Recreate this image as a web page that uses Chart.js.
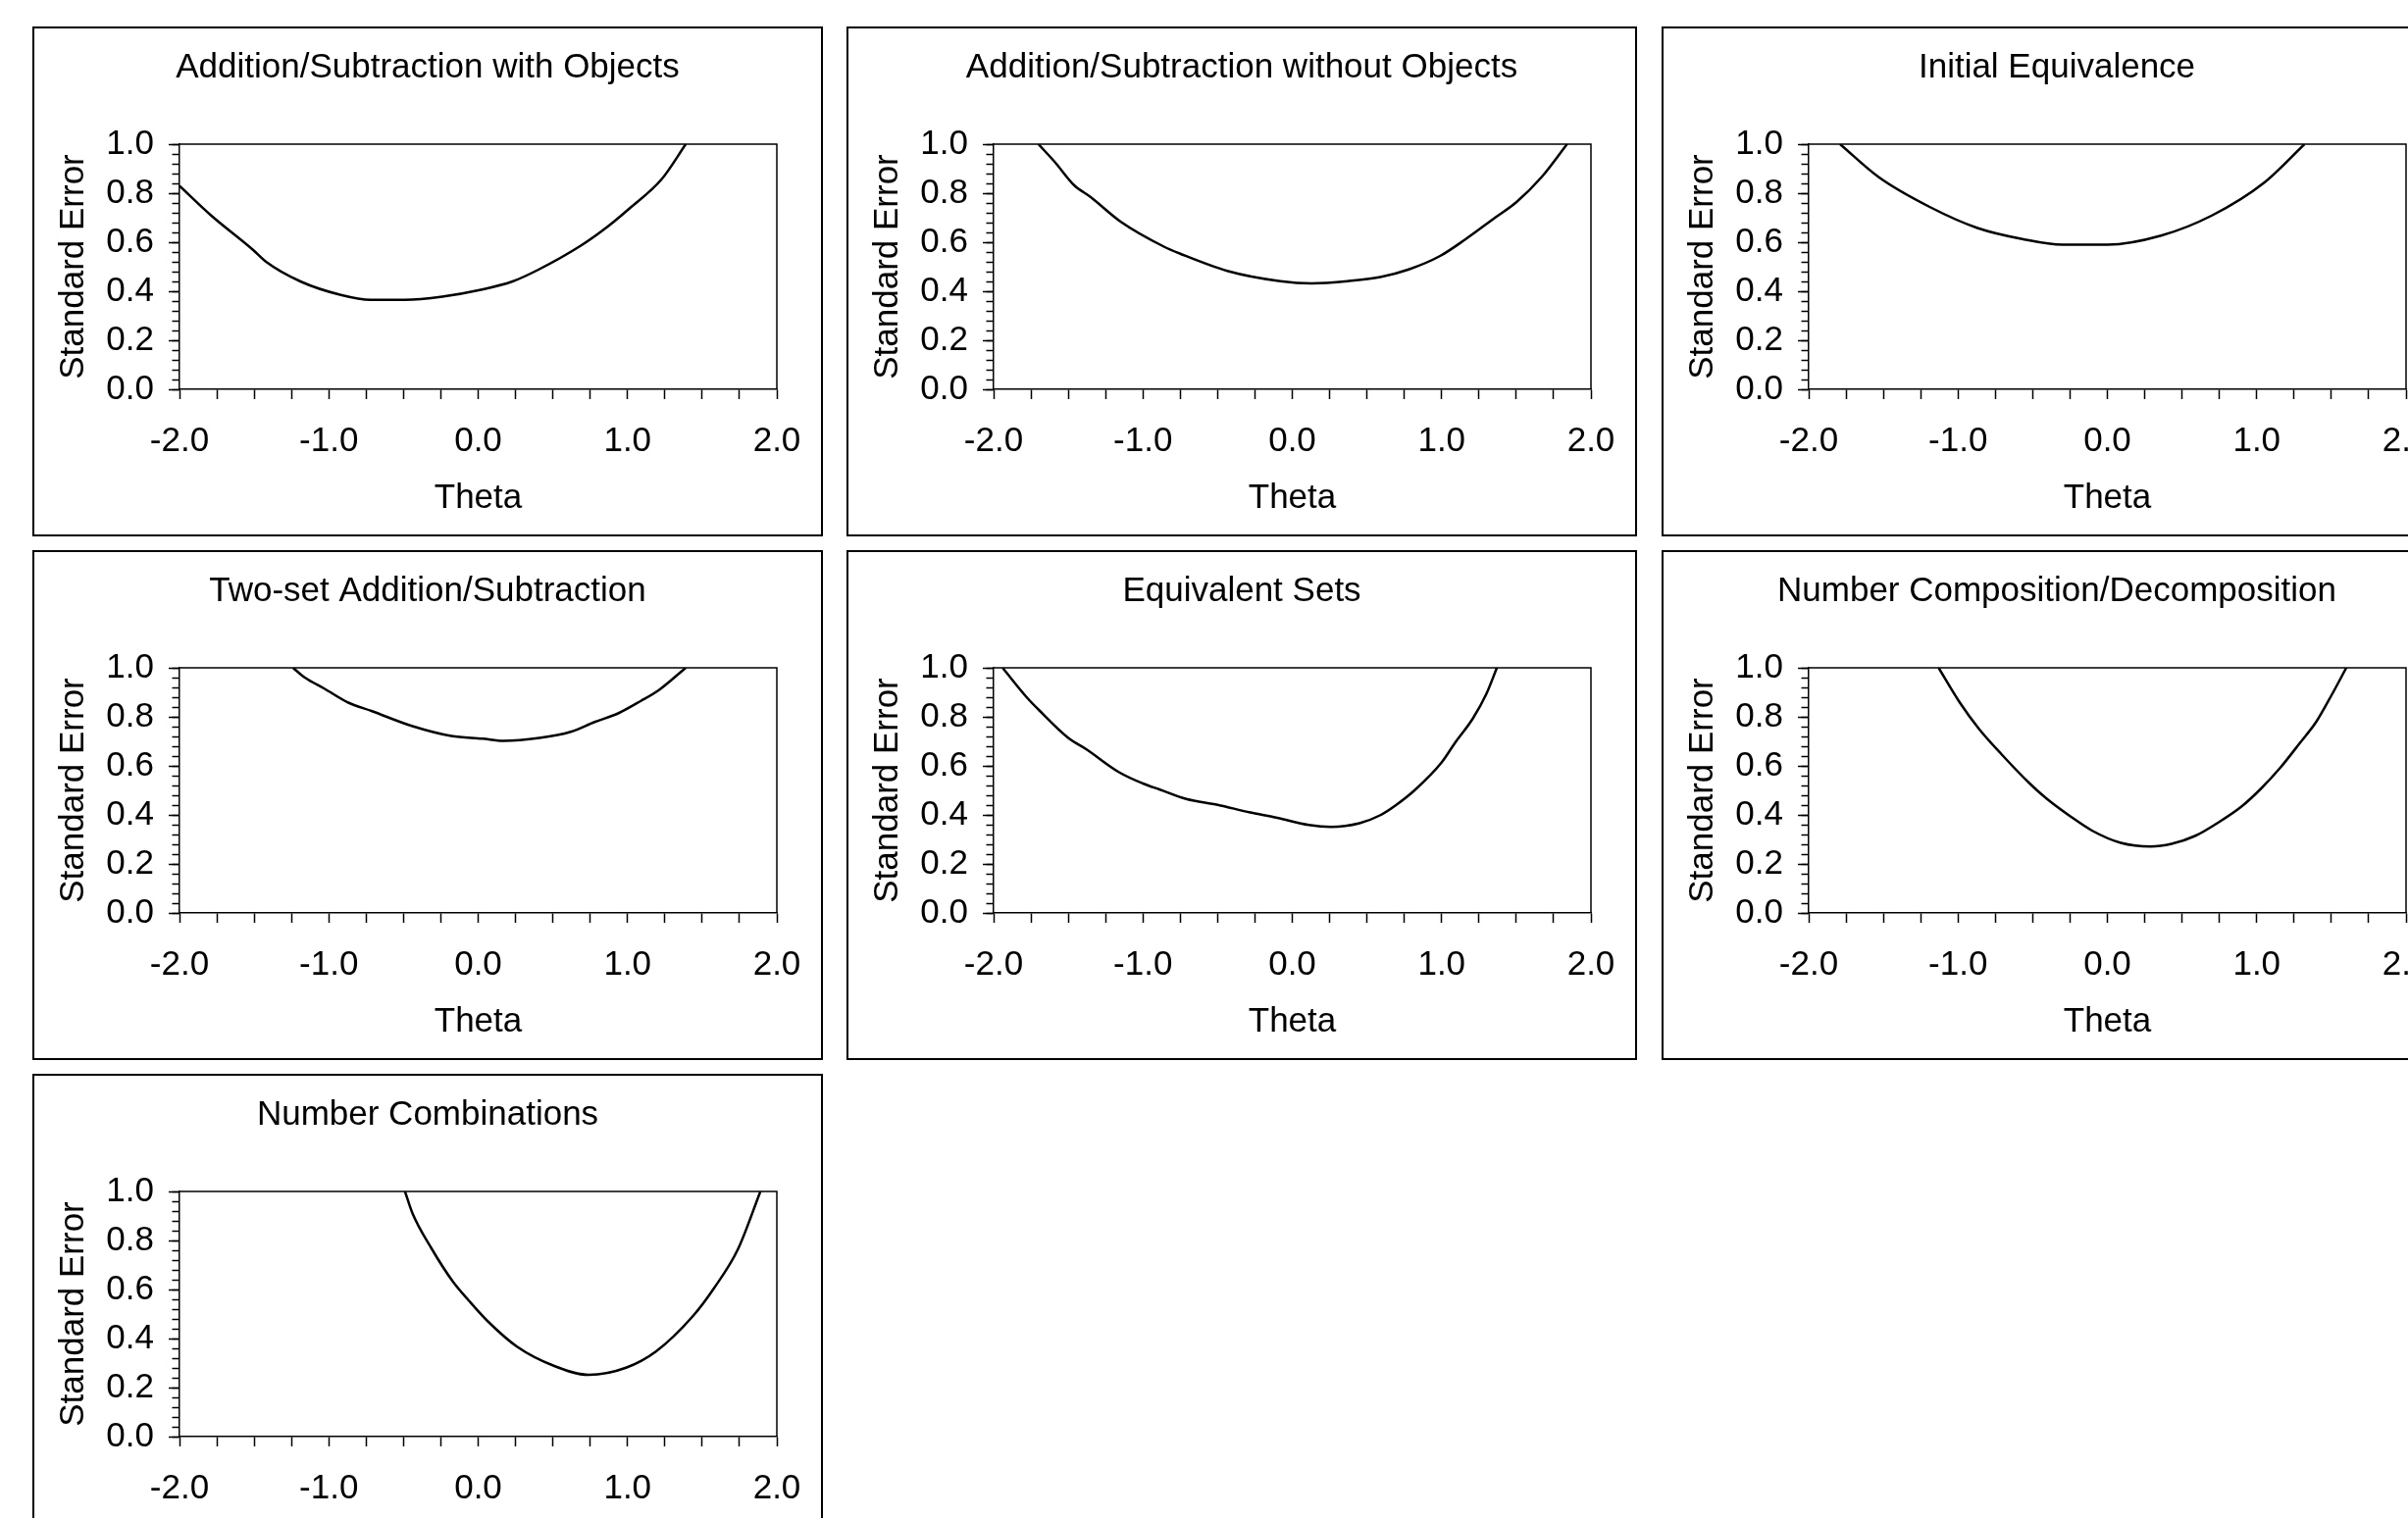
<!DOCTYPE html>
<html>
<head>
<meta charset="utf-8">
<script src="https://cdn.jsdelivr.net/npm/chart.js@4.4.1/dist/chart.umd.min.js"></script>
<style>
  html, body { margin: 0; padding: 0; background: #fff; width: 2455px; height: 1548px; overflow: hidden; }
  .panel { position: absolute; width: 806px; height: 520px; }
  .panel canvas { position: absolute; left: 0; top: 0; }
</style>
</head>
<body>
<div id="root"></div>
<script>
// ---- Data ----
const titles = [
  "Addition/Subtraction with Objects",
  "Addition/Subtraction without Objects",
  "Initial Equivalence",
  "Two-set Addition/Subtraction",
  "Equivalent Sets",
  "Number Composition/Decomposition",
  "Number Combinations"
];

const theta1 = [-2.0, -1.79, -1.51, -1.42, -1.19, -0.92, -0.72, -0.49, -0.24, 0.01, 0.23, 0.40, 0.69, 0.87, 1.01, 1.23, 1.39];
const se1    = [0.83, 0.71, 0.57, 0.52, 0.44, 0.385, 0.365, 0.365, 0.378, 0.405, 0.44, 0.487, 0.587, 0.665, 0.736, 0.858, 1.0];

const theta2 = [-1.70, -1.59, -1.46, -1.35, -1.15, -0.86, -0.75, -0.43, -0.08, 0.13, 0.37, 0.59, 0.78, 0.99, 1.16, 1.36, 1.50, 1.67, 1.84];
const se2    = [1.0, 0.927, 0.832, 0.784, 0.684, 0.582, 0.553, 0.482, 0.441, 0.432, 0.441, 0.458, 0.489, 0.544, 0.612, 0.701, 0.763, 0.866, 1.0];

const theta3 = [-1.79, -1.53, -1.19, -0.87, -0.57, -0.30, 0.0, 0.36, 0.70, 1.05, 1.32];
const se3    = [1.0, 0.865, 0.744, 0.658, 0.613, 0.59, 0.59, 0.627, 0.709, 0.843, 1.0];

const theta4 = [-1.24, -1.16, -1.03, -0.87, -0.71, -0.44, -0.18, 0.03, 0.17, 0.41, 0.62, 0.78, 0.94, 1.09, 1.21, 1.39];
const se4    = [1.0, 0.96, 0.915, 0.858, 0.823, 0.762, 0.722, 0.711, 0.702, 0.714, 0.739, 0.779, 0.815, 0.865, 0.909, 1.0];

const theta5 = [-1.94, -1.77, -1.70, -1.50, -1.38, -1.16, -1.0, -0.89, -0.71, -0.50, -0.29, -0.10, 0.11, 0.26, 0.45, 0.59, 0.69, 0.82, 1.0, 1.09, 1.21, 1.30, 1.37];
const se5    = [1.0, 0.874, 0.83, 0.714, 0.668, 0.574, 0.528, 0.504, 0.465, 0.441, 0.411, 0.388, 0.359, 0.351, 0.366, 0.399, 0.438, 0.501, 0.614, 0.694, 0.794, 0.894, 1.0];

const theta6 = [-1.13, -0.99, -0.86, -0.71, -0.52, -0.41, -0.25, -0.10, 0.09, 0.29, 0.43, 0.59, 0.74, 0.90, 1.03, 1.16, 1.29, 1.40, 1.50, 1.60];
const se6    = [1.0, 0.86, 0.751, 0.648, 0.528, 0.468, 0.395, 0.335, 0.286, 0.271, 0.282, 0.315, 0.368, 0.435, 0.508, 0.594, 0.694, 0.781, 0.887, 1.0];

const theta7 = [-0.49, -0.44, -0.31, -0.17, -0.06, 0.06, 0.26, 0.51, 0.74, 0.99, 1.19, 1.44, 1.58, 1.74, 1.89];
const se7    = [1.0, 0.911, 0.765, 0.633, 0.553, 0.473, 0.367, 0.288, 0.252, 0.281, 0.347, 0.493, 0.606, 0.765, 1.0];

const thetaSets = [theta1, theta2, theta3, theta4, theta5, theta6, theta7];
const seSets = [se1, se2, se3, se4, se5, se6, se7];

const xAxisTitle = "Theta";
const yAxisTitle = "Standard Error";

// ---- Layout ----
const colLeft = [33, 863, 1693.5];
const rowTop = [27, 561, 1095];
const W = 806, H = 520;
const AREA_TOP = 120, AREA_BOTTOM = 370, AREA_LEFT = 150, AREA_RIGHT = 759;
const FONT = { family: "'Liberation Sans', Arial, sans-serif", size: 35, lineHeight: 1.2 };

const framePlugin = {
  id: 'frame',
  afterDraw(chart) {
    const { ctx, chartArea: a } = chart;
    ctx.save();
    ctx.strokeStyle = '#000';
    ctx.lineWidth = 1.5;
    ctx.beginPath();
    ctx.moveTo(a.left, a.top);
    ctx.lineTo(a.right, a.top);
    ctx.lineTo(a.right, a.bottom);
    ctx.stroke();
    // panel border
    ctx.lineWidth = 2;
    ctx.strokeRect(1, 1, chart.width - 2, chart.height - 2);
    ctx.restore();
  }
};

const root = document.getElementById('root');
for (let i = 0; i < titles.length; i++) {
  const r = Math.floor(i / 3), c = i % 3;
  const div = document.createElement('div');
  div.className = 'panel';
  div.style.left = colLeft[c] + 'px';
  div.style.top = rowTop[r] + 'px';
  const cv = document.createElement('canvas');
  cv.width = W; cv.height = H;
  cv.style.width = W + 'px'; cv.style.height = H + 'px';
  div.appendChild(cv);
  root.appendChild(div);

  const pts = thetaSets[i].map((t, k) => ({ x: t, y: seSets[i][k] }));

  new Chart(cv, {
    type: 'line',
    data: {
      datasets: [{
        data: pts,
        borderColor: '#000',
        borderWidth: 2.5,
        pointRadius: 0,
        fill: false,
        cubicInterpolationMode: 'monotone'
      }]
    },
    options: {
      responsive: false,
      devicePixelRatio: 1,
      animation: false,
      events: [],
      layout: { padding: 0 },
      plugins: {
        legend: { display: false },
        tooltip: { enabled: false },
        title: {
          display: true,
          text: titles[i],
          color: '#000',
          font: { ...FONT, weight: 'normal' },
          padding: { top: 21, bottom: AREA_TOP - 21 - 42 }
        }
      },
      scales: {
        x: {
          type: 'linear', position: 'bottom', min: -2, max: 2,
          ticks: {
            stepSize: 0.25, maxTicksLimit: 1000, autoSkip: false, maxRotation: 0, minRotation: 0,
            padding: 22.5, color: '#000', font: FONT,
            callback: v => (Math.abs(v - Math.round(v)) < 1e-9 ? Number(v).toFixed(1) : '')
          },
          grid: { drawOnChartArea: false, drawTicks: true, tickLength: 10, tickColor: '#000', tickWidth: 1.5 },
          border: { display: true, color: '#000', width: 1.5 },
          title: { display: true, text: xAxisTitle, color: '#000', font: FONT, padding: { top: 0, bottom: 18 } },
          afterFit: s => { s.height = H - AREA_BOTTOM; }
        },
        y: {
          type: 'linear', position: 'left', min: 0, max: 1,
          ticks: {
            stepSize: 0.2, maxTicksLimit: 1000, padding: 15, color: '#000', font: FONT,
            callback: v => Number(v).toFixed(1)
          },
          grid: { drawOnChartArea: false, drawTicks: true, tickLength: 11, tickColor: '#000', tickWidth: 1.5 },
          border: { display: true, color: '#000', width: 1.5 },
          title: { display: true, text: yAxisTitle, color: '#000', font: FONT, padding: { top: 21, bottom: 0 } },
          afterFit: s => { s.width = AREA_LEFT; }
        },
        yMinor: {
          type: 'linear', position: { x: -2 }, min: 0, max: 1,
          ticks: { display: false, stepSize: 0.04, maxTicksLimit: 1000 },
          grid: { drawOnChartArea: false, drawTicks: true, tickLength: 7.5, tickColor: '#000', tickWidth: 1.5 },
          border: { display: false }
        },
        yRight: {
          type: 'linear', position: 'right', min: 0, max: 1,
          ticks: { display: false },
          grid: { display: false },
          border: { display: false },
          afterFit: s => { s.width = W - AREA_RIGHT; }
        }
      }
    },
    plugins: [framePlugin]
  });
}
</script>
</body>
</html>
